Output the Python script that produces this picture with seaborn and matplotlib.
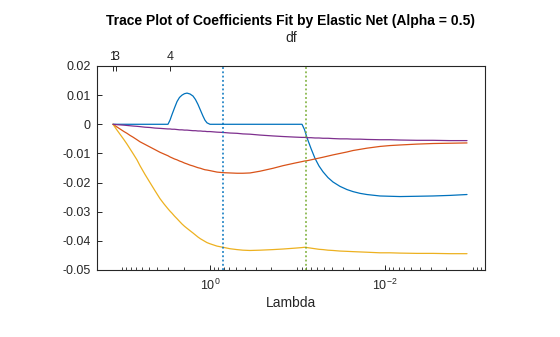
import numpy as np
import pandas as pd
import matplotlib
matplotlib.use("Agg")
import matplotlib.pyplot as plt
import matplotlib.ticker as mticker
import seaborn as sns

# ---- data ----
lam = [12.84, 11.87, 10.68, 9.61, 8.88, 8.21, 7.59, 6.83, 6.31, 5.53, 4.85, 4.25, 3.73, 3.36, 3.02,
       2.865, 2.72, 2.545, 2.38, 2.232, 2.09, 1.956, 1.83, 1.693, 1.564, 1.465, 1.371, 1.284, 1.202, 1.141, 1.082, 1.0,
       0.832, 0.710, 0.591, 0.491, 0.420, 0.349, 0.268, 0.1905, 0.1464, 0.1068, 0.0888,
       0.0832, 0.0779, 0.0701, 0.0631, 0.0568, 0.0511, 0.0448, 0.0393, 0.0327, 0.0272,
       0.0232, 0.0193, 0.0161, 0.01141, 0.00877, 0.00674, 0.00431, 0.00283, 0.001807, 0.001156]

coef1 = [0, 0, 0, 0, 0, 0, 0, 0, 0, 0, 0, 0, 0, 0, 0,
         0.0014, 0.0033, 0.0056, 0.0078, 0.0092, 0.0100, 0.0105, 0.0107, 0.0104, 0.0097, 0.0085, 0.0068, 0.0048, 0.0028, 0.0014, 0.0005, 0,
         0, 0, 0, 0, 0, 0, 0, 0, 0, 0, 0,
         -0.0018, -0.0046, -0.0083, -0.0117, -0.0143, -0.0163, -0.0183, -0.0198, -0.0213, -0.0224,
         -0.0231, -0.0237, -0.0241, -0.0246, -0.0247, -0.0248, -0.0247, -0.0246, -0.0244, -0.0241]

coef2 = [0, -0.0007, -0.0016, -0.0025, -0.0031, -0.0038, -0.0044, -0.0053, -0.0060, -0.0069, -0.0078, -0.0087, -0.0096, -0.0102, -0.0108,
         -0.0112, -0.0115, -0.0119, -0.0122, -0.0126, -0.0129, -0.0133, -0.0136, -0.0140, -0.0143, -0.0146, -0.0149, -0.0151, -0.0154, -0.0156, -0.0157, -0.0159,
         -0.0164, -0.0166, -0.0167, -0.0168, -0.0168, -0.0167, -0.0161, -0.0151, -0.0142, -0.0133, -0.0128,
         -0.0126, -0.0125, -0.0122, -0.0119, -0.0116, -0.0113, -0.0109, -0.0105, -0.0100, -0.0095,
         -0.0090, -0.0086, -0.0082, -0.0076, -0.0073, -0.0071, -0.0068, -0.0066, -0.0065, -0.0064]

coef3 = [0, -0.0015, -0.0034, -0.0053, -0.0068, -0.0084, -0.0100, -0.0122, -0.0142, -0.0172, -0.0200, -0.0228, -0.0255, -0.0273, -0.0290,
         -0.0298, -0.0305, -0.0315, -0.0324, -0.0333, -0.0342, -0.0350, -0.0357, -0.0365, -0.0373, -0.0380, -0.0387, -0.0393, -0.0398, -0.0402, -0.0406, -0.0410,
         -0.0418, -0.0422, -0.0427, -0.0430, -0.0432, -0.0433, -0.0432, -0.0430, -0.0428, -0.0425, -0.0423,
         -0.0422, -0.0423, -0.0425, -0.0427, -0.0429, -0.0430, -0.0432, -0.0433, -0.0435, -0.0436,
         -0.0437, -0.0438, -0.0439, -0.0441, -0.0441, -0.0442, -0.0443, -0.0443, -0.0444, -0.0444]

coef4 = [0, -0.0001, -0.0002, -0.0003, -0.0004, -0.0005, -0.0006, -0.0007, -0.0008, -0.0010, -0.0011, -0.0013, -0.0014, -0.0015, -0.0016,
         -0.0016, -0.0017, -0.0017, -0.0018, -0.0019, -0.0019, -0.0020, -0.0020, -0.0021, -0.0022, -0.0022, -0.0023, -0.0023, -0.0024, -0.0024, -0.0025, -0.0025,
         -0.0027, -0.0028, -0.0030, -0.0031, -0.0033, -0.0034, -0.0037, -0.0040, -0.0042, -0.0044, -0.0045,
         -0.0045, -0.0046, -0.0046, -0.0047, -0.0047, -0.0048, -0.0048, -0.0049, -0.0050, -0.0050,
         -0.0051, -0.0051, -0.0052, -0.0053, -0.0053, -0.0054, -0.0055, -0.0055, -0.0056, -0.0056]

series_names = ["x1", "x2", "x3", "x4"]
series_colors = ["#0072BD", "#D95319", "#EDB120", "#7E2F8E"]

lambda_minmse = 0.705
lambda_1se = 0.080

df_tick_lambda = [12.94, 11.87, 2.87]
df_tick_labels = ["1", "3", "4"]

# ---- build long-form table ----
frames = []
for name, vals in zip(series_names, [coef1, coef2, coef3, coef4]):
    frames.append(pd.DataFrame({"Lambda": lam, "coef": vals, "series": name}))
data = pd.concat(frames, ignore_index=True)

sns.set_theme(style="white")
plt.rcParams["font.family"] = ["Liberation Sans", "DejaVu Sans"]
plt.rcParams["mathtext.default"] = "regular"
txt = "#262626"

fig = plt.figure(figsize=(5.6, 3.37), dpi=100)
ax = fig.add_axes([97/560, 67/337, 388/560, 204/337])

sns.lineplot(data=data, x="Lambda", y="coef", hue="series",
             palette=dict(zip(series_names, series_colors)),
             linewidth=0.9, legend=False, ax=ax, sort=False, estimator=None)

ax.axvline(lambda_minmse, color="#0072BD", linestyle=(0, (1.2, 1.6)), linewidth=1.1)
ax.axvline(lambda_1se, color="#77AC30", linestyle=(0, (1.2, 1.6)), linewidth=1.1)

ax.set_xscale("log")
ax.set_xlim(19.55, 7.2e-4)
ax.set_ylim(-0.05, 0.02)
ax.set_yticks(np.arange(-0.05, 0.0201, 0.01))
ax.yaxis.set_major_formatter(mticker.FuncFormatter(lambda v, p: "0" if abs(v) < 1e-9 else f"{v:.2f}"))
ax.xaxis.set_major_locator(mticker.FixedLocator([1.0, 0.01]))
ax.xaxis.set_major_formatter(mticker.FuncFormatter(lambda v, p: r"$10^{%d}$" % round(np.log10(v))))
ax.xaxis.set_minor_locator(mticker.LogLocator(base=10, subs=np.arange(1, 10), numticks=20))
ax.xaxis.set_minor_formatter(mticker.NullFormatter())

ax.tick_params(axis="both", which="both", direction="in", colors=txt, labelcolor=txt,
               labelsize=9, top=False, right=False, left=True, bottom=True)
ax.tick_params(axis="both", which="major", length=3.5, width=0.7)
ax.tick_params(axis="y", which="major", pad=4.5)
ax.tick_params(axis="x", which="major", pad=5.5)
ax.tick_params(axis="x", which="minor", length=2, width=0.6)
ax.set_xlabel("Lambda", fontsize=10, color=txt, labelpad=2)
ax.set_ylabel("")
for s in ax.spines.values():
    s.set_color(txt)
    s.set_linewidth(0.8)

ax2 = ax.twiny()
ax2.set_xscale("log")
ax2.set_xlim(ax.get_xlim())
ax2.xaxis.set_major_locator(mticker.FixedLocator(df_tick_lambda))
ax2.xaxis.set_major_formatter(mticker.FixedFormatter(df_tick_labels))
ax2.xaxis.set_minor_locator(mticker.NullLocator())
ax2.tick_params(axis="x", direction="in", length=3.5, width=0.7, colors=txt,
                labelcolor=txt, labelsize=9, pad=2.5)
ax2.set_xlabel("df", fontsize=10, color=txt, labelpad=6.5)
for s in ax2.spines.values():
    s.set_visible(False)

fig.text(291/560, 1 - 21/337, "Trace Plot of Coefficients Fit by Elastic Net (Alpha = 0.5)",
         ha="center", va="center", fontsize=10, fontweight="bold", color="#000000")

fig.savefig("out.png", dpi=100)
